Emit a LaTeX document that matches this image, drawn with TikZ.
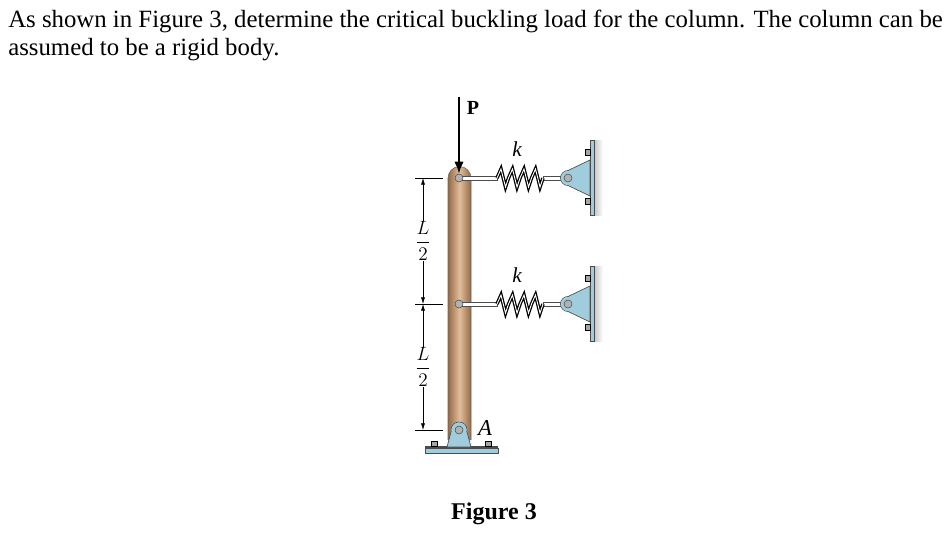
\documentclass[tikz,border=0pt]{standalone}
\usepackage{fontspec}
\setmainfont{Liberation Serif}
\usetikzlibrary{arrows.meta}
\definecolor{stl}{RGB}{160,205,222}
\definecolor{brA}{RGB}{150,105,70}
\definecolor{brB}{RGB}{225,190,155}
\begin{document}
\begin{tikzpicture}[x=0.75pt,y=-0.75pt,
  txt/.style={anchor=base west,inner sep=0,font=\fontsize{18.6}{21}\selectfont},
  lbl/.style={inner sep=0,font=\fontsize{15}{17}\selectfont},
  steel/.style={fill=stl,draw=black!70,line width=0.5pt},
  rod/.style={draw=black!70,fill=white,line width=0.4pt},
  pin/.style={circle,fill=gray!60,draw=black!70,inner sep=0,minimum size=6pt,line width=0.4pt}]
\useasboundingbox (0,0) rectangle (952,536);
\node[txt] (t1) at (8,27) {As shown in Figure 3, determine the critical buckling load for the column. The column can be};
\node[txt] (t2) at (8,55) {assumed to be a rigid body.};
% column
\shade[left color=brA,right color=brA,middle color=brB]
  (448,440) -- (448,178) arc[start angle=180,end angle=360,radius=11.5] -- (471,440) -- cycle;
\draw[black!60,line width=0.4pt] (448,440) -- (448,178) arc[start angle=180,end angle=360,radius=11.5] -- (471,440);
% springs and brackets
\foreach \yy/\nm in {178/top,304/mid}{
  \fill[rod] (459,\yy-2) rectangle (497,\yy+2);
  \fill[rod] (543,\yy-2) rectangle (568,\yy+2);
  \draw[black,line width=2.6pt] (497,\yy) \foreach \i in {0,...,3}{ -- ++(4,-9) -- ++(4.5,18) -- ++(3,-9)} ;
  \draw[white,line width=0.7pt] (497,\yy) \foreach \i in {0,...,3}{ -- ++(4,-9) -- ++(4.5,18) -- ++(3,-9)} ;
  \shade[left color=gray!50,right color=white] (593,\yy-38) rectangle (603,\yy+37);
  \draw[steel] (568,\yy) circle[radius=7.5];
  \draw[steel] (568,\yy-7.5) -- (590,\yy-18) -- (590,\yy+18) -- (568,\yy+7.5);
  \fill[stl] (568,\yy) circle[radius=7];
  \fill[stl,draw=black!70,line width=0.5pt] (590,\yy-38) rectangle (594,\yy+37);
  \foreach \b in {-26,23}{\fill[gray!70,draw=black] (585,\yy+\b-3) rectangle (590,\yy+\b+3);}
  \node[pin] (p\nm) at (459,\yy) {};
  \node[pin] (b\nm) at (568,\yy) {};
  \node[lbl,font=\itshape\fontsize{16}{18}\selectfont] (k\nm) at (517,\yy-29) {k};
}
% support A
\fill[black!70] (425,446) rectangle (498,448);
\draw[steel] (425,448) rectangle (498,453);
\draw[steel] (459,430) circle[radius=8];
\draw[steel] (451,432) -- (447,447) -- (471,447) -- (467,432);
\fill[stl] (459,430) circle[radius=7.5];
\foreach \b in {434,488}{\fill[gray!70,draw=black] (\b-3,441) rectangle (\b+3,446);}
\node[pin] (pA) at (459,430) {};
\node[lbl,font=\itshape\fontsize{17}{19}\selectfont] (A) at (485,428) {A};
% load P
\coordinate (Ps) at (459,97);
\draw[line width=1.4pt,-{Latex[length=9pt,width=7pt]}] (Ps) -- (ptop.north);
\node[lbl,font=\bfseries\fontsize{15}{17}\selectfont] (P) at (473,108) {P};
% dimensions
\foreach \yy in {178,304,430}{\draw[line width=0.4pt] (415,\yy) -- (443,\yy);}
\node[lbl] (L1) at (423,241) {$\displaystyle\frac{L}{2}$};
\node[lbl] (L2) at (423,367) {$\displaystyle\frac{L}{2}$};
\draw[-{Latex[length=5pt,width=3pt]},line width=0.4pt] (L1.north) -- (423,178);
\draw[-{Latex[length=5pt,width=3pt]},line width=0.4pt] (L1.south) -- (423,304);
\draw[-{Latex[length=5pt,width=3pt]},line width=0.4pt] (L2.north) -- (423,304);
\draw[-{Latex[length=5pt,width=3pt]},line width=0.4pt] (L2.south) -- (423,430);
\node[lbl,font=\bfseries\fontsize{18}{20}\selectfont] (fig) at (494,514) {Figure 3};
\end{tikzpicture}
\end{document}
